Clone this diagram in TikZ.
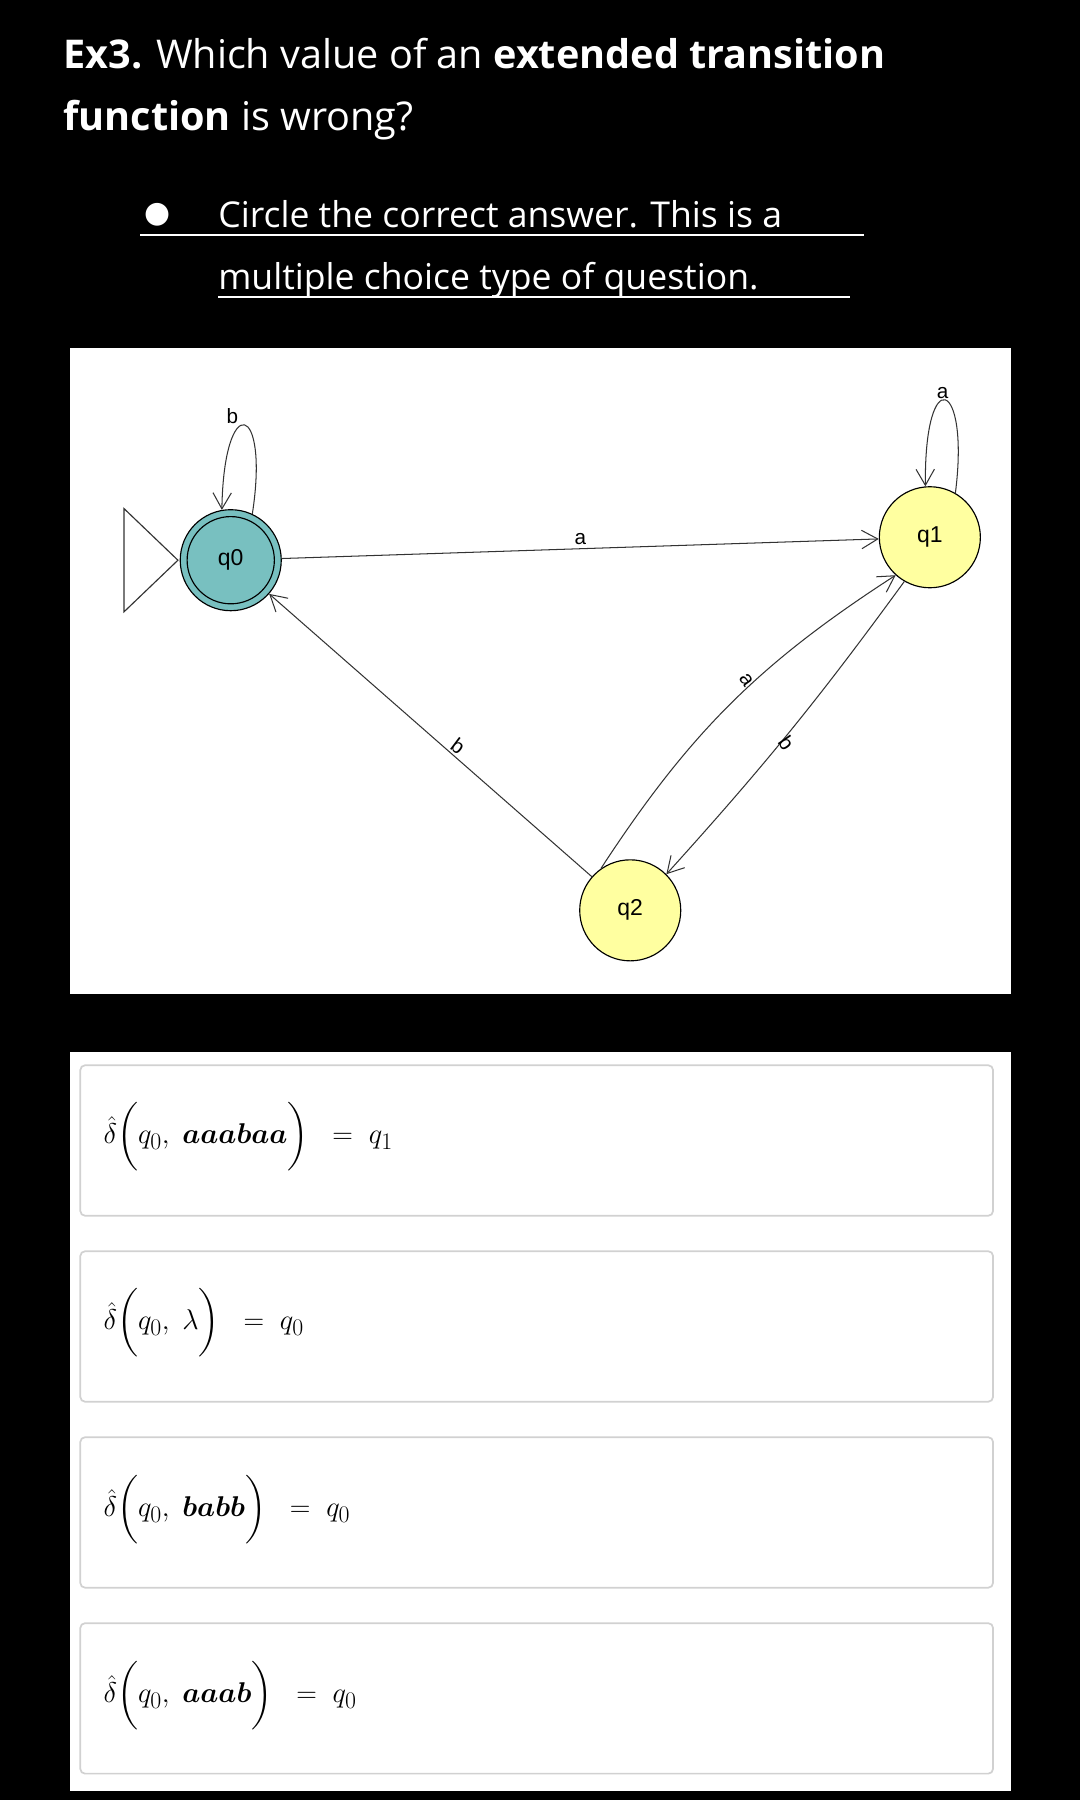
\documentclass[tikz,border=0pt]{standalone}
\usepackage{fontspec}
\usepackage{amsmath,bm}
\setmainfont{Open Sans}
\newfontfamily\guifont{Liberation Sans}
\newfontfamily\symfont{DejaVu Sans}
\usetikzlibrary{arrows.meta}
\begin{document}
\begin{tikzpicture}[x=1pt,y=-1pt,
  state/.style={circle,draw=black,line width=1pt,minimum size=88pt,inner sep=0pt,font=\guifont\fontsize{20}{24}\selectfont},
  edge/.style={draw=black!80,line width=0.9pt,-{Straight Barb[length=14pt,width=16pt]}},
  elab/.style={font=\guifont\fontsize{18}{22}\selectfont,inner sep=1pt},
  ansbox/.style={draw=black!18,line width=1.5pt,rounded corners=4pt},
  ans/.style={anchor=west,font=\fontsize{32}{36}\selectfont,inner sep=0pt}]
\useasboundingbox (0,0) rectangle (941,1568);
\fill[black] (0,0) rectangle (941,1568);
\node[anchor=base west,text=white,font=\fontsize{34.5}{40}\selectfont,inner sep=0pt] (t1) at (55,60) {\textbf{Ex3.} Which value of an \textbf{extended transition}};
\node[anchor=base west,text=white,font=\fontsize{34.5}{40}\selectfont,inner sep=0pt] (t2) at (55,114) {\textbf{function} is wrong?};
\node[text=white,font=\symfont\fontsize{26}{30}\selectfont,inner sep=0pt] (bul) at (137,187) {●};
\node[anchor=base west,text=white,font=\fontsize{31}{38}\selectfont,inner sep=0pt] (l1) at (190,198) {Circle the correct answer. This is a};
\node[anchor=base west,text=white,font=\fontsize{31}{38}\selectfont,inner sep=0pt] (l2) at (190,252) {multiple choice type of question.};
\draw[white,line width=1.5pt] (122,205) -- (753,205);
\draw[white,line width=1.5pt] (190,259) -- (740,259);
% panel
\fill[white] (61,303) rectangle (881,866);
\node[state,fill={rgb,255:red,120;green,192;blue,192}] (q0) at (201,488) {};
\node[circle,draw=black,line width=1pt,minimum size=76pt,inner sep=0pt,font=\guifont\fontsize{20}{24}\selectfont] (q0i) at (q0) {q0};
\node[state,fill={rgb,255:red,255;green,255;blue,160}] (q1) at (810,468) {q1};
\node[state,fill={rgb,255:red,255;green,255;blue,160}] (q2) at (549,793) {q2};
\draw[black!80,line width=1pt] (108,443) -- (155,488) -- (108,533) -- cycle;
\draw[edge] (q0) -- node[elab,above,yshift=2pt]{a} (q1);
\draw[edge] (q2) -- node[elab,pos=0.45,above right,rotate=-37]{b} (q0);
\draw[edge] (q2.125) to[bend left=12] node[elab,pos=0.55,above left,rotate=-55]{a} (q1.228);
\draw[edge] (q1.240) to[bend left=3] node[elab,pos=0.5,below right,rotate=-55]{b} (q2.45);
\draw[edge] (q0.65) .. controls (235,350) and (195,340) .. node[elab,above,pos=0.55,xshift=-8pt]{b} (q0.100);
\draw[edge] (q1.60) .. controls (845,330) and (805,315) .. node[elab,above,pos=0.55]{a} (q1.95);
% answers
\fill[white] (61,916) rectangle (881,1560);
\foreach \y/\n in {928/b1,1090/b2,1252/b3,1414/b4}
  \draw[ansbox] (70,\y) rectangle (865,\y+131);
\node[ans] (a1) at (90,990) {$\hat\delta\biggl(q_0,\; \bm{aaabaa}\biggr)\;\;=\;q_1$};
\node[ans] (a2) at (90,1152) {$\hat\delta\biggl(q_0,\; \lambda\biggr)\;\;=\;q_0$};
\node[ans] (a3) at (90,1315) {$\hat\delta\biggl(q_0,\; \bm{babb}\biggr)\;\;=\;q_0$};
\node[ans] (a4) at (90,1477) {$\hat\delta\biggl(q_0,\; \bm{aaab}\biggr)\;\;=\;q_0$};
\end{tikzpicture}
\end{document}
